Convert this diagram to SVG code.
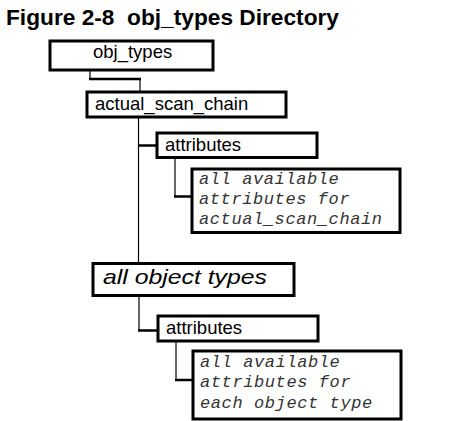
<svg xmlns="http://www.w3.org/2000/svg" width="474" height="421" viewBox="0 0 474 421">
<style>
.box{fill:#fff;stroke:#000;stroke-width:3}
.lbl{font-family:"Liberation Sans",Arial,sans-serif;font-size:18.5px;fill:#000}
.ital{font-family:"Liberation Sans",Arial,sans-serif;font-style:italic;font-size:21px;fill:#000}
.mono{font-family:"Liberation Mono","Courier New",monospace;font-style:italic;font-size:17px;letter-spacing:0.6px;fill:#333}
.thin{fill:none;stroke:#000;stroke-width:1.2}
.thick{fill:none;stroke:#000;stroke-width:2.5}
</style>
<rect width="474" height="421" fill="#fff"/>
<text x="6" y="25" xml:space="preserve" style="white-space:pre" font-family="'Liberation Sans',Arial,sans-serif" font-weight="bold" font-size="22" textLength="333" lengthAdjust="spacingAndGlyphs">Figure 2-8  obj_types Directory</text>
<g id="connectors">
<path class="thin" d="M90 66V79M140 79V92"/>
<path class="thick" d="M89 79H141"/>
<path class="thin" d="M138.5 117V263"/>
<path class="thick" d="M138 145.5H157"/>
<path class="thin" d="M175 157V196.5"/>
<path class="thick" d="M174 196.5H192"/>
<path class="thin" d="M139 296V330.5"/>
<path class="thick" d="M138 330.5H158"/>
<path class="thin" d="M176 341V380"/>
<path class="thick" d="M175 380H193"/>
</g>
<g id="obj_types">
<rect class="box" x="50" y="41" width="163" height="29"/>
<text class="lbl" x="93" y="58">obj_types</text>
</g>
<g id="actual_scan_chain">
<rect class="box" x="87" y="92" width="199" height="25"/>
<text class="lbl" x="95" y="110">actual_scan_chain</text>
</g>
<g id="attributes1">
<rect class="box" x="157" y="133" width="160" height="24.5"/>
<text class="lbl" x="165" y="151">attributes</text>
</g>
<g id="attrs_scan_chain">
<rect class="box" x="192" y="169" width="208" height="63.5"/>
<text class="mono" x="199" y="184">all available</text>
<text class="mono" x="199" y="204">attributes for</text>
<text class="mono" x="199" y="224">actual_scan_chain</text>
</g>
<g id="all_object_types">
<rect class="box" x="93" y="263.5" width="201" height="32"/>
<text class="ital" x="103" y="284" textLength="164" lengthAdjust="spacingAndGlyphs">all object types</text>
</g>
<g id="attributes2">
<rect class="box" x="158" y="316" width="160" height="25"/>
<text class="lbl" x="166" y="334">attributes</text>
</g>
<g id="attrs_each_type">
<rect class="box" x="193" y="351" width="208" height="68"/>
<text class="mono" x="200" y="367">all available</text>
<text class="mono" x="200" y="387">attributes for</text>
<text class="mono" x="200" y="408">each object type</text>
</g>
</svg>
